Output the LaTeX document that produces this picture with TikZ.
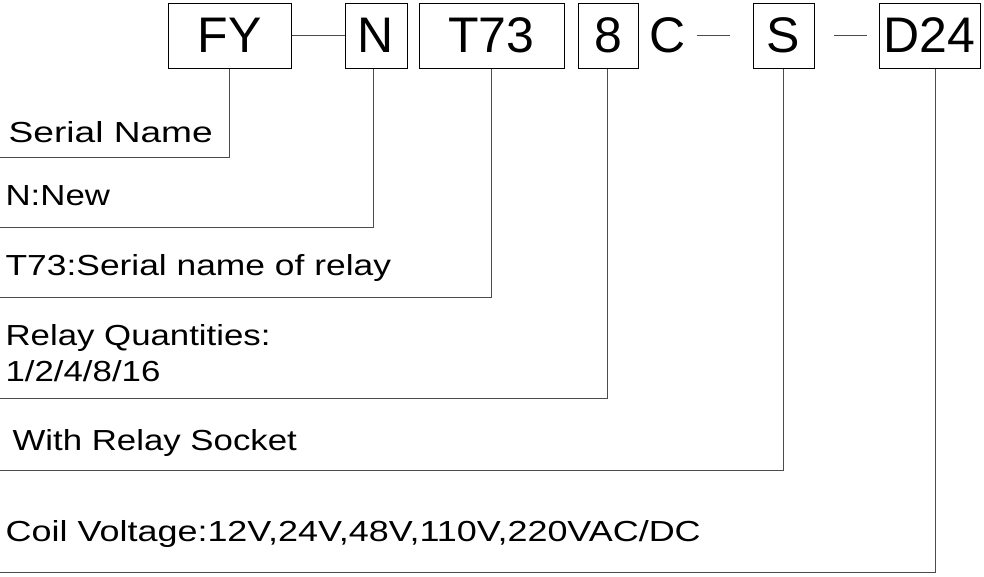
\documentclass[tikz,border=0pt]{standalone}
\usepackage{fontspec}
\setmainfont{Liberation Sans}
\begin{document}
\begin{tikzpicture}[x=1pt,y=-1pt,line width=1pt,
 box/.style={draw,inner sep=0pt,font=\fontsize{50}{50}\selectfont},
 lab/.style={anchor=base west,inner sep=0pt,font=\fontsize{29}{29}\selectfont},
 ln/.style={draw=black!70,line width=0.9pt}]
\useasboundingbox (0,0) rectangle (984,576);
\node[box,minimum width=123pt,minimum height=65pt] (fy) at (229.5,35.5) {FY};
\node[box,minimum width=62pt,minimum height=65pt] (n) at (376,35.5) {N};
\node[box,minimum width=145pt,minimum height=65pt] (t) at (491.5,35.5) {T73};
\node[box,minimum width=60pt,minimum height=65pt] (e) at (608,35.5) {8};
\node[inner sep=0pt,font=\fontsize{50}{50}\selectfont] (c) at (668,35.5) {C};
\node[box,minimum width=61pt,minimum height=65pt] (s) at (783.5,35.5) {S};
\node[box,minimum width=101pt,minimum height=65pt] (d) at (929.5,35.5) {D24};
\coordinate (c1) at (697,35.5); \coordinate (c2) at (730,35.5);
\coordinate (s1) at (834,35.5); \coordinate (s2) at (867,35.5);
\draw[ln] (fy.east) -- (n.west);
\draw[ln] (c1) -- (c2);
\draw[ln] (s1) -- (s2);
\coordinate (l1) at (0,157); \coordinate (l2) at (0,227); \coordinate (l3) at (0,297);
\coordinate (l4) at (0,398); \coordinate (l5) at (0,470); \coordinate (l6) at (0,572);
\draw[ln] (fy.south) |- (l1);
\draw[ln] (n.south -| 373,0) |- (l2);
\draw[ln] (t.south) |- (l3);
\draw[ln] (e.south -| 607,0) |- (l4);
\draw[ln] (s.south) |- (l5);
\draw[ln] (d.south -| 935,0) |- (l6);
\node[lab,xscale=1.28] (a) at (8,142) {Serial Name};
\node[lab,xscale=1.2] (b) at (5,205) {N:New};
\node[lab,xscale=1.22] (t3) at (5,275) {T73:Serial name of relay};
\node[lab,xscale=1.2] (rq) at (5,345) {Relay Quantities:};
\node[lab,xscale=1.2] (rq2) at (5,381) {1/2/4/8/16};
\node[lab,xscale=1.2] (ws) at (12,450) {With Relay Socket};
\node[lab,xscale=1.24] (cv) at (5,541) {Coil Voltage:12V,24V,48V,110V,220VAC/DC};
\end{tikzpicture}
\end{document}
